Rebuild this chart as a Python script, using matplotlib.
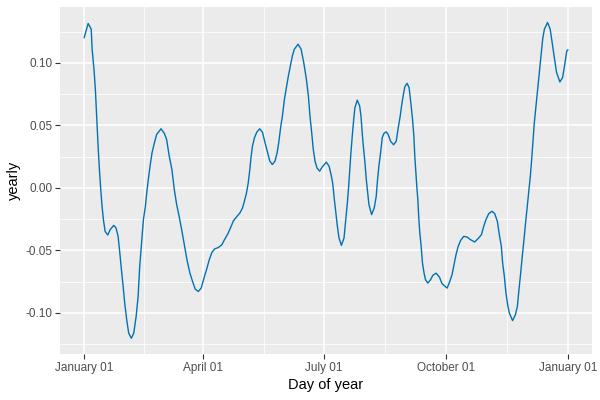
import matplotlib
matplotlib.use('Agg')
import matplotlib.pyplot as plt
from matplotlib.ticker import FixedLocator

# day of year (0 = January 01) and yearly seasonality values
days = [0, 3, 5.3, 6, 7.5, 8.5, 9.5, 10.5, 11.5, 12.5, 13.5, 14.5, 15.8, 17.8, 19.6,
        22.3, 24, 25.6, 26.9, 28.1, 29.4, 30.6, 32.1, 33.6, 35.6, 37.4, 39.2, 40.7,
        41.9, 43.1, 44.7, 46.2, 47.2, 48.4, 49.7, 51.2, 53, 54.7, 58, 60.5, 62.2,
        64.2, 66.2, 68, 69.8, 71.5, 73.8, 75.8, 77.8, 79.8, 81.8, 83.8, 86.1, 88.3,
        90.4, 92.3, 94.4, 96.4, 98.4, 101.4, 103.9, 105.9, 108.5, 110.7, 112.7,
        114.9, 117.5, 119.5, 120.9, 122.5, 123.8, 125, 126, 127, 128.5, 130.3,
        132.5, 134.5, 136.5, 138.5, 140.1, 142, 144, 145.6, 146.8, 148.4, 149.6,
        151.1, 152.6, 154.1, 155.6, 157.1, 158.6, 161.4, 163.7, 165.7, 167.7,
        169.2, 170.4, 171.7, 172.9, 174.2, 175.7, 177.7, 179.7, 182.7, 184.8,
        186.3, 187.5, 188.8, 189.8, 191.1, 192.3, 194.1, 196.1, 197.4, 198.6,
        199.6, 200.6, 201.3, 202.3, 203.4, 204.3, 206.1, 207.9, 208.9, 209.8,
        210.9, 211.9, 212.9, 214, 214.9, 216.9, 218.9, 220.4, 221.4, 222.4,
        223.7, 224.9, 226.2, 227.9, 229.4, 231.2, 233.5, 235.5, 237, 238.5,
        239.5, 240.7, 242, 243.7, 245.2, 246.5, 247.8, 248.8, 249.5, 250.3, 251,
        251.8, 252.5, 253.3, 254.3, 255.3, 256.5, 257.6, 259.3, 261.4, 263.1,
        265.6, 268.1, 270.1, 273.9, 275.9, 277.6, 279.1, 280.6, 282.1, 284,
        286.4, 288.9, 291.5, 294.7, 297.7, 299.8, 301.5, 303.2, 305.3, 307.8,
        309.8, 311.8, 313.3, 314.8, 315.8, 317.1, 318.3, 319.6, 320.9, 323.3,
        325.4, 326.9, 328.1, 329.4, 330.6, 331.9, 333.1, 334.4, 335.6, 336.7,
        337.7, 338.6, 339.7, 340.7, 341.7, 342.7, 343.7, 344.7, 346, 347.3,
        349.7, 351.7, 353.5, 355, 356.5, 359, 361, 362.5, 364.2, 365]
yearly = [0.1203, 0.1316, 0.127, 0.111, 0.0936, 0.0775, 0.0548, 0.0334, 0.0147,
          -0.0013, -0.0147, -0.0254, -0.0348, -0.0377, -0.0334, -0.0300, -0.032,
          -0.0388, -0.0521, -0.0655, -0.0789, -0.0923, -0.1056, -0.1163, -0.1203,
          -0.1163, -0.1029, -0.0869, -0.0628, -0.0468, -0.0254, -0.0147, -0.004,
          0.0067, 0.0174, 0.0281, 0.0361, 0.0428, 0.0473, 0.0436, 0.0388, 0.0254,
          0.0147, -0.0013, -0.0134, -0.0219, -0.0348, -0.0468, -0.0588, -0.0682,
          -0.0749, -0.081, -0.0829, -0.0802, -0.0722, -0.0655, -0.0575, -0.0516,
          -0.0489, -0.0476, -0.0455, -0.0414, -0.0366, -0.0313, -0.0262, -0.0233,
          -0.0201, -0.016, -0.0107, -0.004, 0.004, 0.0147, 0.0254, 0.0334, 0.0401,
          0.0447, 0.0473, 0.0447, 0.0361, 0.0281, 0.0214, 0.0187, 0.0214, 0.0281,
          0.0361, 0.0495, 0.0575, 0.0709, 0.0802, 0.0896, 0.0976, 0.1056, 0.111,
          0.115, 0.111, 0.1003, 0.0869, 0.0735, 0.0575, 0.0441, 0.0308, 0.0214,
          0.016, 0.0134, 0.0168, 0.0206, 0.0174, 0.0107, 0.004, -0.0094, -0.0187,
          -0.0308, -0.0401, -0.046, -0.0401, -0.0254, -0.012, 0.0013, 0.0174,
          0.0281, 0.0414, 0.0548, 0.0642, 0.0703, 0.0655, 0.0575, 0.0441, 0.0308,
          0.0201, 0.0067, -0.004, -0.0134, -0.0214, -0.016, -0.0067, 0.0067,
          0.0174, 0.0281, 0.0401, 0.0436, 0.0449, 0.0428, 0.0374, 0.0345, 0.0374,
          0.0481, 0.0575, 0.0655, 0.0735, 0.081, 0.0837, 0.0802, 0.0682, 0.0548,
          0.0414, 0.0254, 0.012, 0.0013, -0.0094, -0.024, -0.0361, -0.0468,
          -0.0602, -0.0682, -0.0735, -0.0762, -0.0735, -0.07, -0.0682, -0.0714,
          -0.0767, -0.0802, -0.0749, -0.0695, -0.0615, -0.0535, -0.0473, -0.0422,
          -0.0388, -0.0393, -0.0414, -0.0433, -0.0401, -0.0374, -0.0308, -0.0254,
          -0.0206, -0.0187, -0.0206, -0.0267, -0.0374, -0.0468, -0.0602, -0.0709,
          -0.0842, -0.0936, -0.1003, -0.1062, -0.1016, -0.0949, -0.0816, -0.0682,
          -0.0548, -0.0414, -0.0281, -0.0147, -0.0027, 0.0094, 0.0227, 0.0361,
          0.0521, 0.0628, 0.0735, 0.0842, 0.0949, 0.1056, 0.119, 0.127, 0.1324,
          0.127, 0.1136, 0.1029, 0.0923, 0.0848, 0.0882, 0.0976, 0.1096, 0.1104]

tick_days = [0, 90, 181, 273, 365]
tick_labels = ['January 01', 'April 01', 'July 01', 'October 01', 'January 01']
ytick_vals = [-0.10, -0.05, 0.00, 0.05, 0.10]
ytick_labels = ['-0.10', '-0.05', '0.00', '0.05', '0.10']

plt.rcParams['font.family'] = ['Liberation Sans', 'DejaVu Sans']

fig = plt.figure(figsize=(6, 4), dpi=100)
ax = fig.add_axes([0.1, 0.115, 0.8867, 0.8683])
ax.set_facecolor('#EBEBEB')

ax.plot(days, yearly, color='#0072B2', lw=1.0)

# ggplot-style expansion of 5%
xr = max(days) - min(days)
yr = max(yearly) - min(yearly)
ax.set_xlim(min(days) - 0.05 * xr, max(days) + 0.05 * xr)
ax.set_ylim(min(yearly) - 0.05 * yr, max(yearly) + 0.05 * yr)

ax.set_xticks(tick_days)
ax.set_xticklabels(tick_labels)
ax.set_yticks(ytick_vals)
ax.set_yticklabels(ytick_labels)
minor_x = [(a + b) / 2 for a, b in zip(tick_days[:-1], tick_days[1:])]
ax.xaxis.set_minor_locator(FixedLocator(minor_x))
ax.yaxis.set_minor_locator(FixedLocator([-0.125, -0.075, -0.025, 0.025, 0.075, 0.125]))

ax.grid(which='major', color='white', lw=1.1)
ax.grid(which='minor', color='white', lw=0.55)
ax.set_axisbelow(True)
for s in ax.spines.values():
    s.set_visible(False)

ax.tick_params(which='major', length=3.5, width=0.8, color='#333333',
               labelsize=8.5, labelcolor='#4D4D4D', pad=2)
ax.tick_params(which='minor', length=0)

ax.set_xlabel('Day of year', fontsize=10.5, labelpad=3)
ax.set_ylabel('yearly', fontsize=10.5, labelpad=3)

fig.savefig('out.png', dpi=100)
